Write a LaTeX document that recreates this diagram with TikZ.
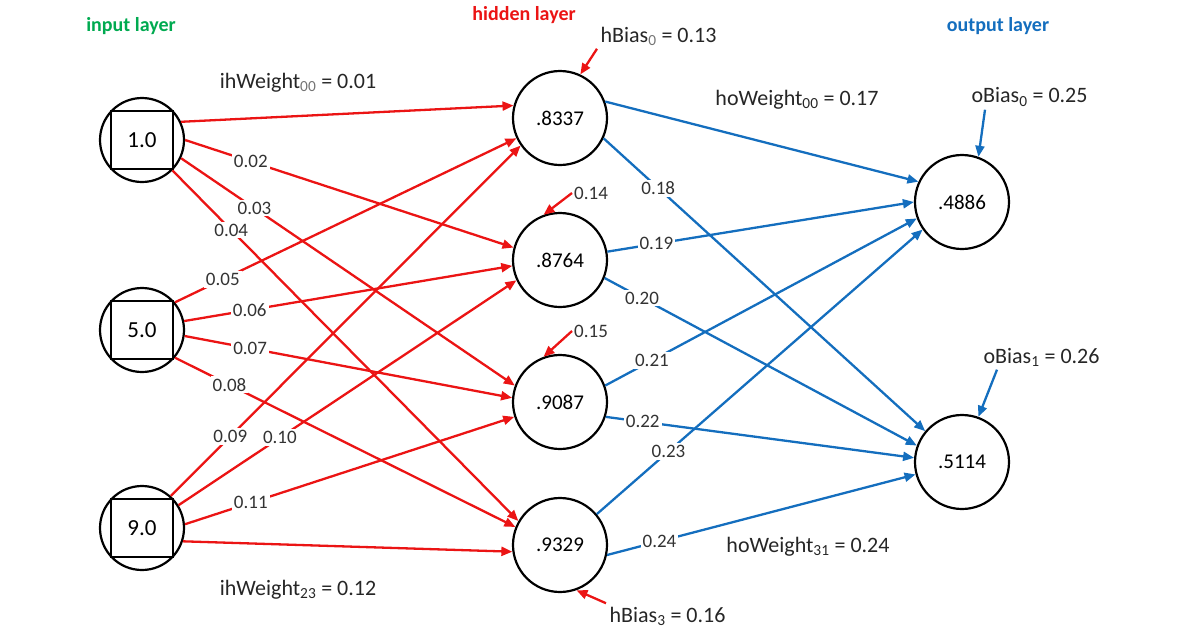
\documentclass[tikz,border=0pt]{standalone}
\usepackage{fontspec}
\setmainfont{Carlito}
\usetikzlibrary{arrows.meta}
\definecolor{rd}{RGB}{235,20,20}
\definecolor{bl}{RGB}{20,110,190}
\definecolor{gr}{RGB}{0,170,80}
\begin{document}
\begin{tikzpicture}[x=1pt,y=-1pt,
 inp/.style={circle,draw,line width=2.2pt,minimum size=84pt,inner sep=0pt},
 sq/.style={draw,line width=2pt,minimum width=62pt,minimum height=58pt,font=\fontsize{23}{26}\selectfont},
 hid/.style={circle,draw,line width=2.2pt,minimum size=94pt,inner sep=0pt,font=\fontsize{21}{24}\selectfont},
 redl/.style={rd,line width=2.3pt,-{Triangle[length=11pt,width=9pt]}},
 bluel/.style={bl,line width=2.3pt,-{Triangle[length=11pt,width=9pt]}},
 wl/.style={fill=white,inner sep=2pt,text=black!80,font=\fontsize{19}{22}\selectfont},
 txt/.style={text=black!85,font=\fontsize{22}{25}\selectfont},
 ttl/.style={font=\bfseries\fontsize{20}{23}\selectfont}]
\useasboundingbox (0,0) rectangle (1200,630);
\node[inp] (i0) at (142,140) {}; \node[sq] (s0) at (142,140) {1.0};
\node[inp] (i1) at (142,330) {}; \node[sq] (s1) at (142,330) {5.0};
\node[inp] (i2) at (142,528) {}; \node[sq] (s2) at (142,528) {9.0};
\node[hid] (h0) at (560,118) {.8337};
\node[hid] (h1) at (560,260) {.8764};
\node[hid] (h2) at (560,402) {.9087};
\node[hid] (h3) at (560,545) {.9329};
\node[hid] (o0) at (962,202) {.4886};
\node[hid] (o1) at (962,462) {.5114};
% red edges
\draw[redl] (i0.25) -- (h0.165);
\draw[redl] (i0.0) -- node[wl,pos=0.2]{0.02} (h1.165);
\draw[redl] (i0.-25) -- node[wl,pos=0.22]{0.03} (h2.160);
\draw[redl] (i0.-45) -- node[wl,pos=0.17]{0.04} (h3.150);
\draw[redl] (i1.40) -- node[wl,pos=0.14]{0.05} (h0.205);
\draw[redl] (i1.12) -- node[wl,pos=0.2]{0.06} (h1.187);
\draw[redl] (i1.-8) -- node[wl,pos=0.2]{0.07} (h2.175);
\draw[redl] (i1.-40) -- node[wl,pos=0.16]{0.08} (h3.158);
\draw[redl] (i2.48) -- node[wl,pos=0.17]{0.09} (h0.215);
\draw[redl] (i2.32) -- node[wl,pos=0.3]{0.10} (h1.205);
\draw[redl] (i2.5) -- node[wl,pos=0.2]{0.11} (h2.198);
\draw[redl] (i2.-18) -- (h3.188);
\node[txt] (l01) at (298,83) {ihWeight\textsubscript{\textcolor{black!55}{00}} = 0.01};
\node[txt] (l12) at (298,590) {ihWeight\textsubscript{23} = 0.12};
% blue edges
\draw[bluel] (h0.20) -- (o0.155);
\draw[bluel] (h0.-25) -- node[wl,pos=0.17]{0.18} (o1.140);
\draw[bluel] (h1.10) -- node[wl,pos=0.16]{0.19} (o0.180);
\draw[bluel] (h1.-22) -- node[wl,pos=0.12]{0.20} (o1.160);
\draw[bluel] (h2.20) -- node[wl,pos=0.15]{0.21} (o0.200);
\draw[bluel] (h2.-18) -- node[wl,pos=0.12]{0.22} (o1.175);
\draw[bluel] (h3.40) -- node[wl,pos=0.22]{0.23} (o0.215);
\draw[bluel] (h3.-12) -- node[wl,pos=0.17]{0.24} (o1.195);
\node[txt] (w017) at (797,100) {hoWeight\textsubscript{00} = 0.17};
\node[txt] (w31) at (808,547) {hoWeight\textsubscript{31} = 0.24};
% biases
\node[txt,anchor=west] (b0) at (597,36) {hBias\textsubscript{\textcolor{black!55}{0}} = 0.13};
\draw[redl] (b0.south west) -- (h0.65);
\node[wl,anchor=west] (b1) at (572,193) {0.14};
\draw[redl] (b1.west) -- (h1.110);
\node[wl,anchor=west] (b2) at (572,331) {0.15};
\draw[redl] (b2.west) -- (h2.110);
\node[txt,anchor=west] (b3) at (606,616) {hBias\textsubscript{3} = 0.16};
\draw[redl] (b3.north west) -- (h3.-70);
\node[txt,anchor=west] (ob0) at (968,97) {oBias\textsubscript{0} = 0.25};
\draw[bluel] ([xshift=17pt]ob0.south west) -- (o0.70);
\node[txt,anchor=west] (ob1) at (980,357) {oBias\textsubscript{1} = 0.26};
\draw[bluel] ([xshift=17pt]ob1.south west) -- (o1.70);
% titles
\node[ttl,text=gr] (t0) at (131,26) {input layer};
\node[ttl,text=rd] (t1) at (524,15) {hidden layer};
\node[ttl,text=bl] (t2) at (998,26) {output layer};
\end{tikzpicture}
\end{document}
